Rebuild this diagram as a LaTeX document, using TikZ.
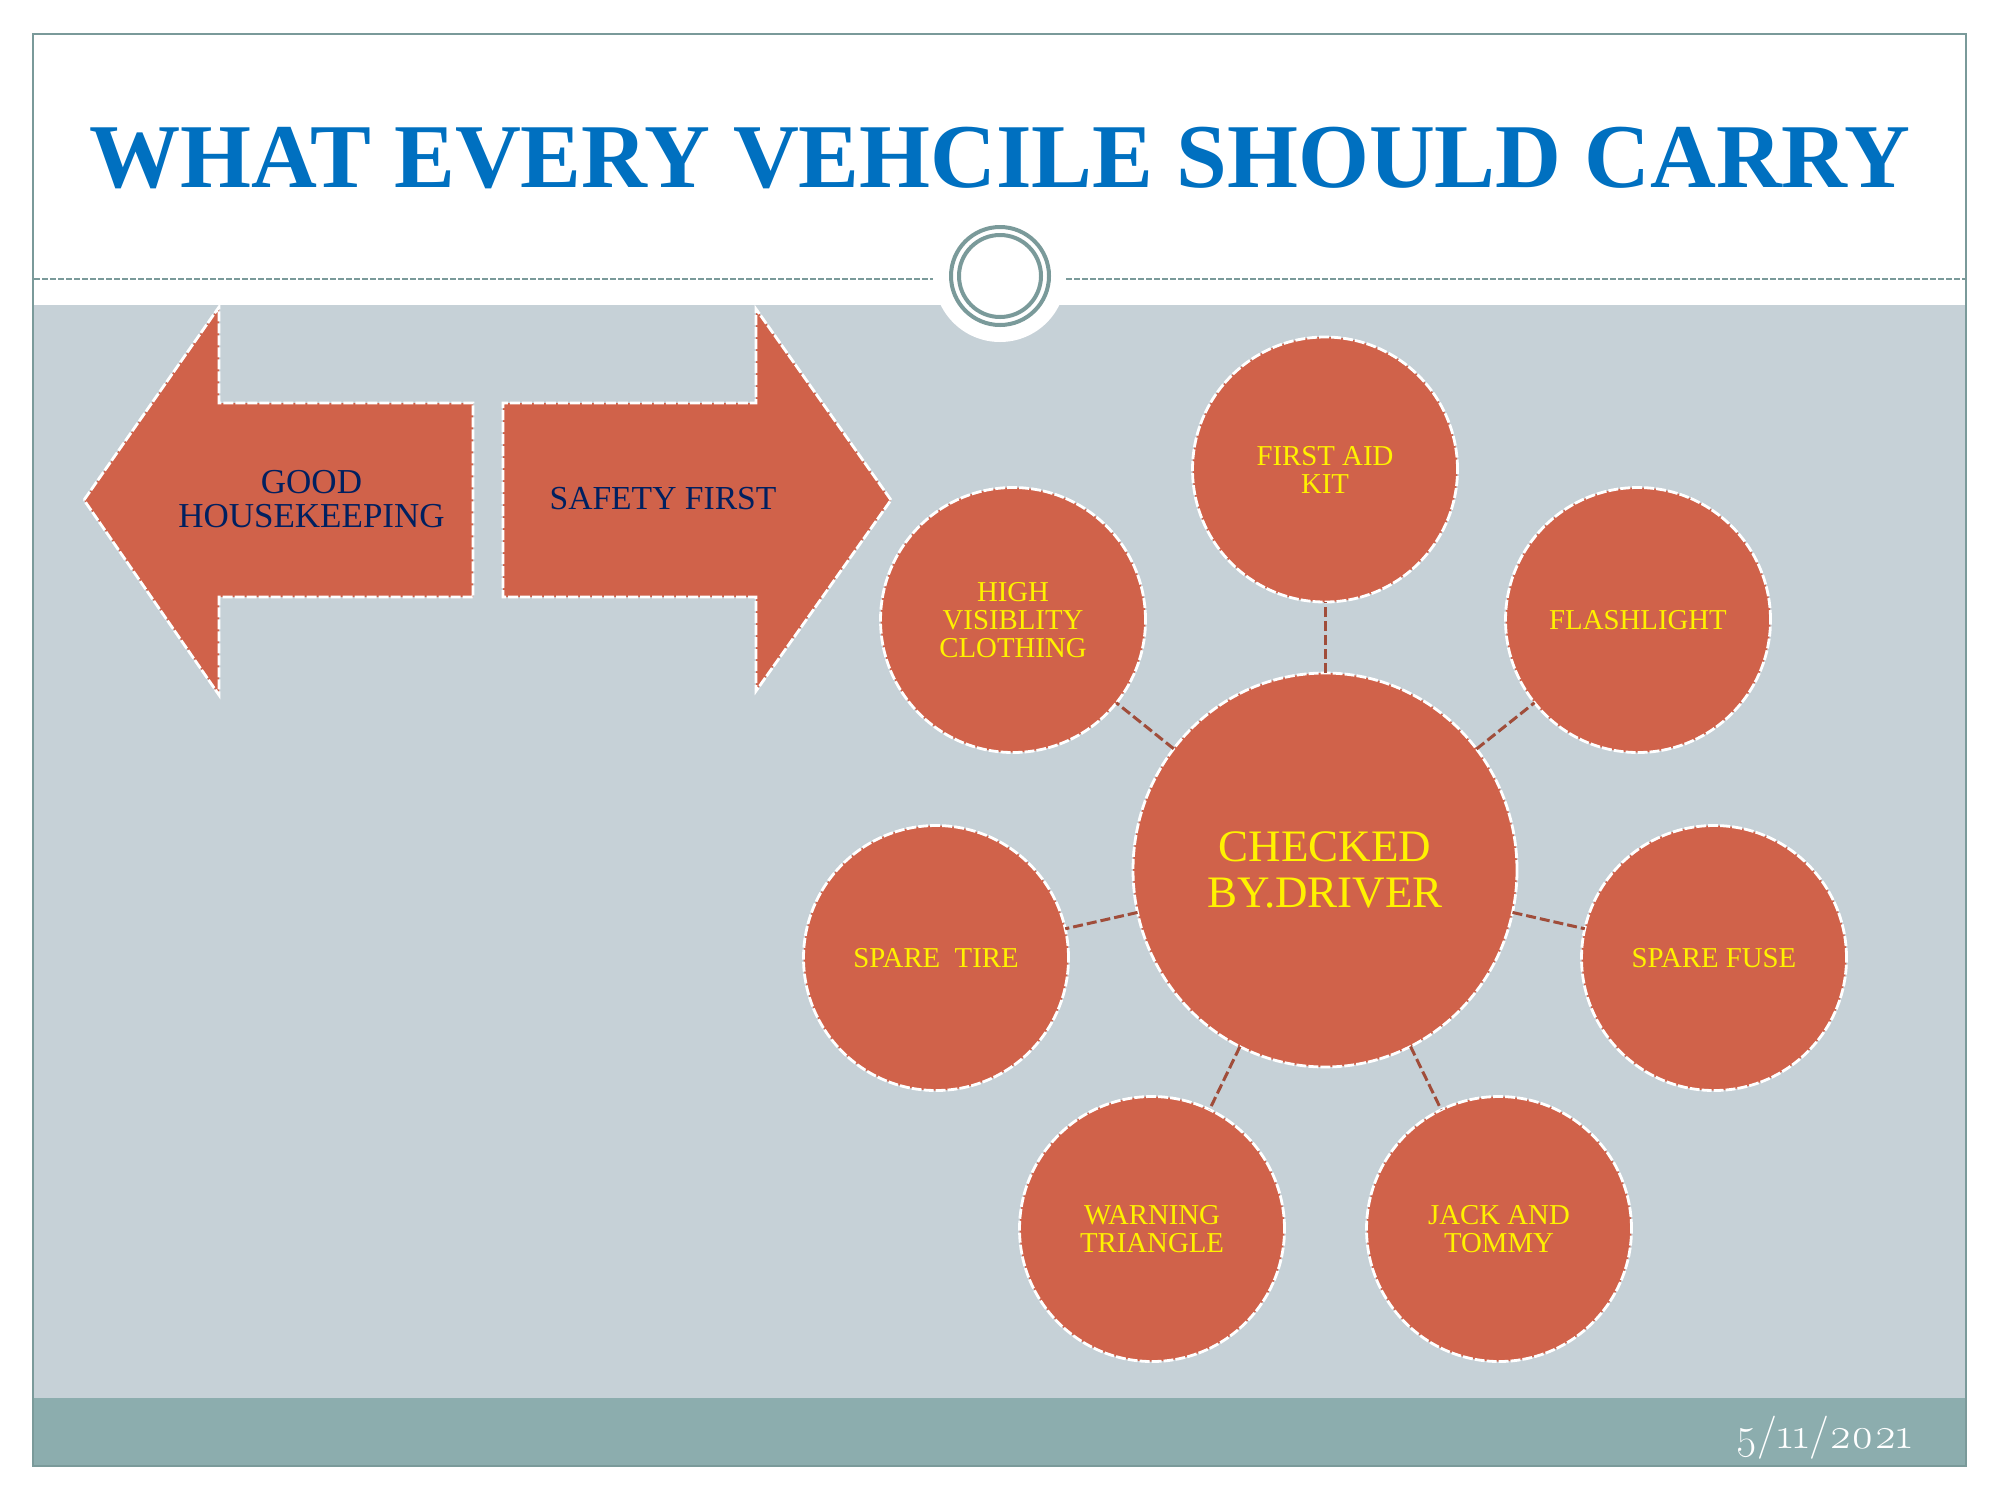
\documentclass[tikz,border=0pt]{standalone}
\usepackage{fontspec}
\usetikzlibrary{shapes.geometric}
\setmainfont{Liberation Serif}
\newfontfamily\datefont[Numbers=OldStyle]{Latin Modern Roman}
\definecolor{bodyc}{HTML}{C6D1D7}
\definecolor{bandc}{HTML}{8CADAE}
\definecolor{framec}{HTML}{7A9A9A}
\definecolor{orangec}{HTML}{D0624A}
\definecolor{linkc}{HTML}{A04D3A}
\definecolor{navyc}{HTML}{002060}
\definecolor{titlec}{HTML}{0070C0}
\tikzset{
  x=0.5pt,y=-0.5pt,
  edgewhite/.style={draw=white,line width=1.4pt,dash pattern=on 5pt off 1pt},
  sat/.style={circle,fill=orangec,edgewhite,minimum size=132.5pt,inner sep=0pt,outer sep=0pt,align=center,text=yellow,font=\fontsize{14.4}{14}\selectfont},
  hub/.style={ellipse,fill=orangec,edgewhite,minimum width=192pt,minimum height=197pt,inner sep=0pt,outer sep=0pt,align=center,text=yellow,font=\fontsize{22.5}{23.3}\selectfont},
  arrowshape/.style={fill=orangec,edgewhite},
  arrowtext/.style={align=center,text=navyc,font=\fontsize{17.5}{17}\selectfont},
  link/.style={draw=linkc,line width=1.5pt,dash pattern=on 5pt off 2pt},
  rulec/.style={draw=framec,line width=0.7pt,dash pattern=on 3pt off 1pt},
}
\begin{document}
\begin{tikzpicture}
\useasboundingbox (0,0) rectangle (2000,1500);
\fill[white] (0,0) rectangle (2000,1500);
\fill[bodyc] (33,304.5) rectangle (1966,1398);
\fill[bandc] (33,1398) rectangle (1966,1466);
\fill[white] (1000,276) circle[radius=66];
\draw[framec,line width=1pt] (33,34) rectangle (1966,1466);
\coordinate (ruleL) at (34,279);
\coordinate (ruleLe) at (933,279);
\coordinate (ruleR) at (1066,279);
\coordinate (ruleRe) at (1965,279);
\draw[rulec] (ruleL) -- (ruleLe);
\draw[rulec] (ruleR) -- (ruleRe);
\draw[framec,line width=2pt] (1000,276) circle[radius=49];
\draw[framec,line width=2pt] (1000,276) circle[radius=41];
\node[font=\fontsize{45.6}{48}\bfseries\selectfont,text=titlec,inner sep=0pt,anchor=base] (title) at (1000,187) {WHAT EVERY VEHCILE SHOULD CARRY};
\draw[arrowshape] (84,500) -- (219,307) -- (219,403) -- (473,403) -- (473,597) -- (219,597) -- (219,695) -- cycle;
\draw[arrowshape] (891,500) -- (756,309) -- (756,403) -- (503,403) -- (503,597) -- (756,597) -- (756,691) -- cycle;
\node[arrowtext] (good) at (311.5,499) {GOOD\\HOUSEKEEPING};
\node[arrowtext,font=\fontsize{16.8}{17}\selectfont] (safety) at (663,499) {SAFETY FIRST};
\node[hub] (hubn) at (1325,870) {CHECKED\\BY.DRIVER};
\node[sat] (aid) at (1325,469.5) {FIRST AID\\KIT};
\node[sat] (vis) at (1013,620) {HIGH\\VISIBLITY\\CLOTHING};
\node[sat] (flash) at (1638,620) {FLASHLIGHT};
\node[sat] (tire) at (936,958) {SPARE\ \ TIRE};
\node[sat] (fuse) at (1714,958) {SPARE FUSE};
\node[sat] (warn) at (1152,1229) {WARNING\\TRIANGLE};
\node[sat] (jack) at (1499,1229) {JACK AND\\TOMMY};
\foreach \n in {aid,vis,flash,tire,fuse,warn,jack} \draw[link] (hubn) -- (\n);
\node[text=white,font=\datefont\fontsize{21.6}{22}\selectfont] (date) at (1824,1438) {5/11/2021};
\end{tikzpicture}
\end{document}
